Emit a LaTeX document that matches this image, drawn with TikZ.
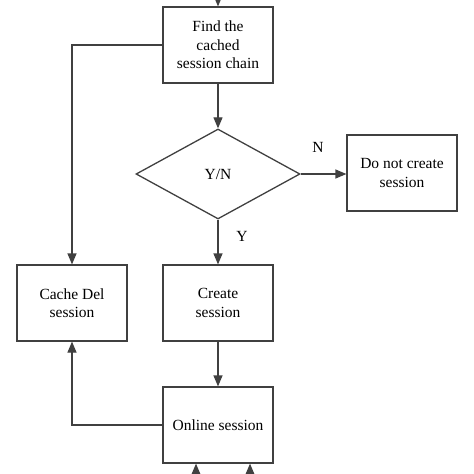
\documentclass[tikz,border=0pt]{standalone}
\usepackage{fontspec}
\setmainfont{Liberation Serif}
\usetikzlibrary{shapes.geometric,arrows.meta}
\begin{document}
\begin{tikzpicture}[x=1pt,y=-1pt,
  box/.style={draw=black!75,line width=1.2pt,minimum width=110pt,minimum height=76pt,inner sep=0pt,align=center,font=\fontsize{15.5}{18.5}\selectfont},
  dec/.style={draw=black!75,line width=1.3pt,diamond,aspect=1.822,minimum width=164pt,minimum height=90pt,inner sep=0pt,font=\fontsize{15.5}{18.5}\selectfont},
  conn/.style={draw=black!75,line width=1.2pt,-{Triangle[length=11pt,width=9pt]}},
  lbl/.style={font=\fontsize{15.5}{18.5}\selectfont,inner sep=0pt}]
\useasboundingbox (0,0) rectangle (474,474);
\node[box] (find) at (218,45) {Find the\\cached\\session chain};
\node[dec] (yn) at (218,174) {Y/N};
\node[box] (dnc) at (402,173) {Do not create\\session};
\node[box] (del) at (72,303) {Cache Del\\session};
\node[box] (create) at (218,303) {Create\\session};
\node[box] (online) at (218,425) {Online session};
\coordinate (top) at (218,0);
\coordinate (b1) at (196,474);
\coordinate (b2) at (250,474);
\node[lbl] (nl) at (318,147) {N};
\node[lbl] (yl) at (242,236) {Y};
\draw[conn] (top) -- (find.north);
\draw[conn] (find.south) -- (yn.north);
\draw[conn] (yn.east) -- (dnc.west |- yn.east);
\draw[conn] (yn.south) -- (create.north);
\draw[conn] (create.south) -- (online.north);
\draw[conn] (find.west) -| (del.north);
\draw[conn] (online.west) -| (del.south);
\draw[conn] (b1) -- (b1 |- online.south);
\draw[conn] (b2) -- (b2 |- online.south);
\end{tikzpicture}
\end{document}
